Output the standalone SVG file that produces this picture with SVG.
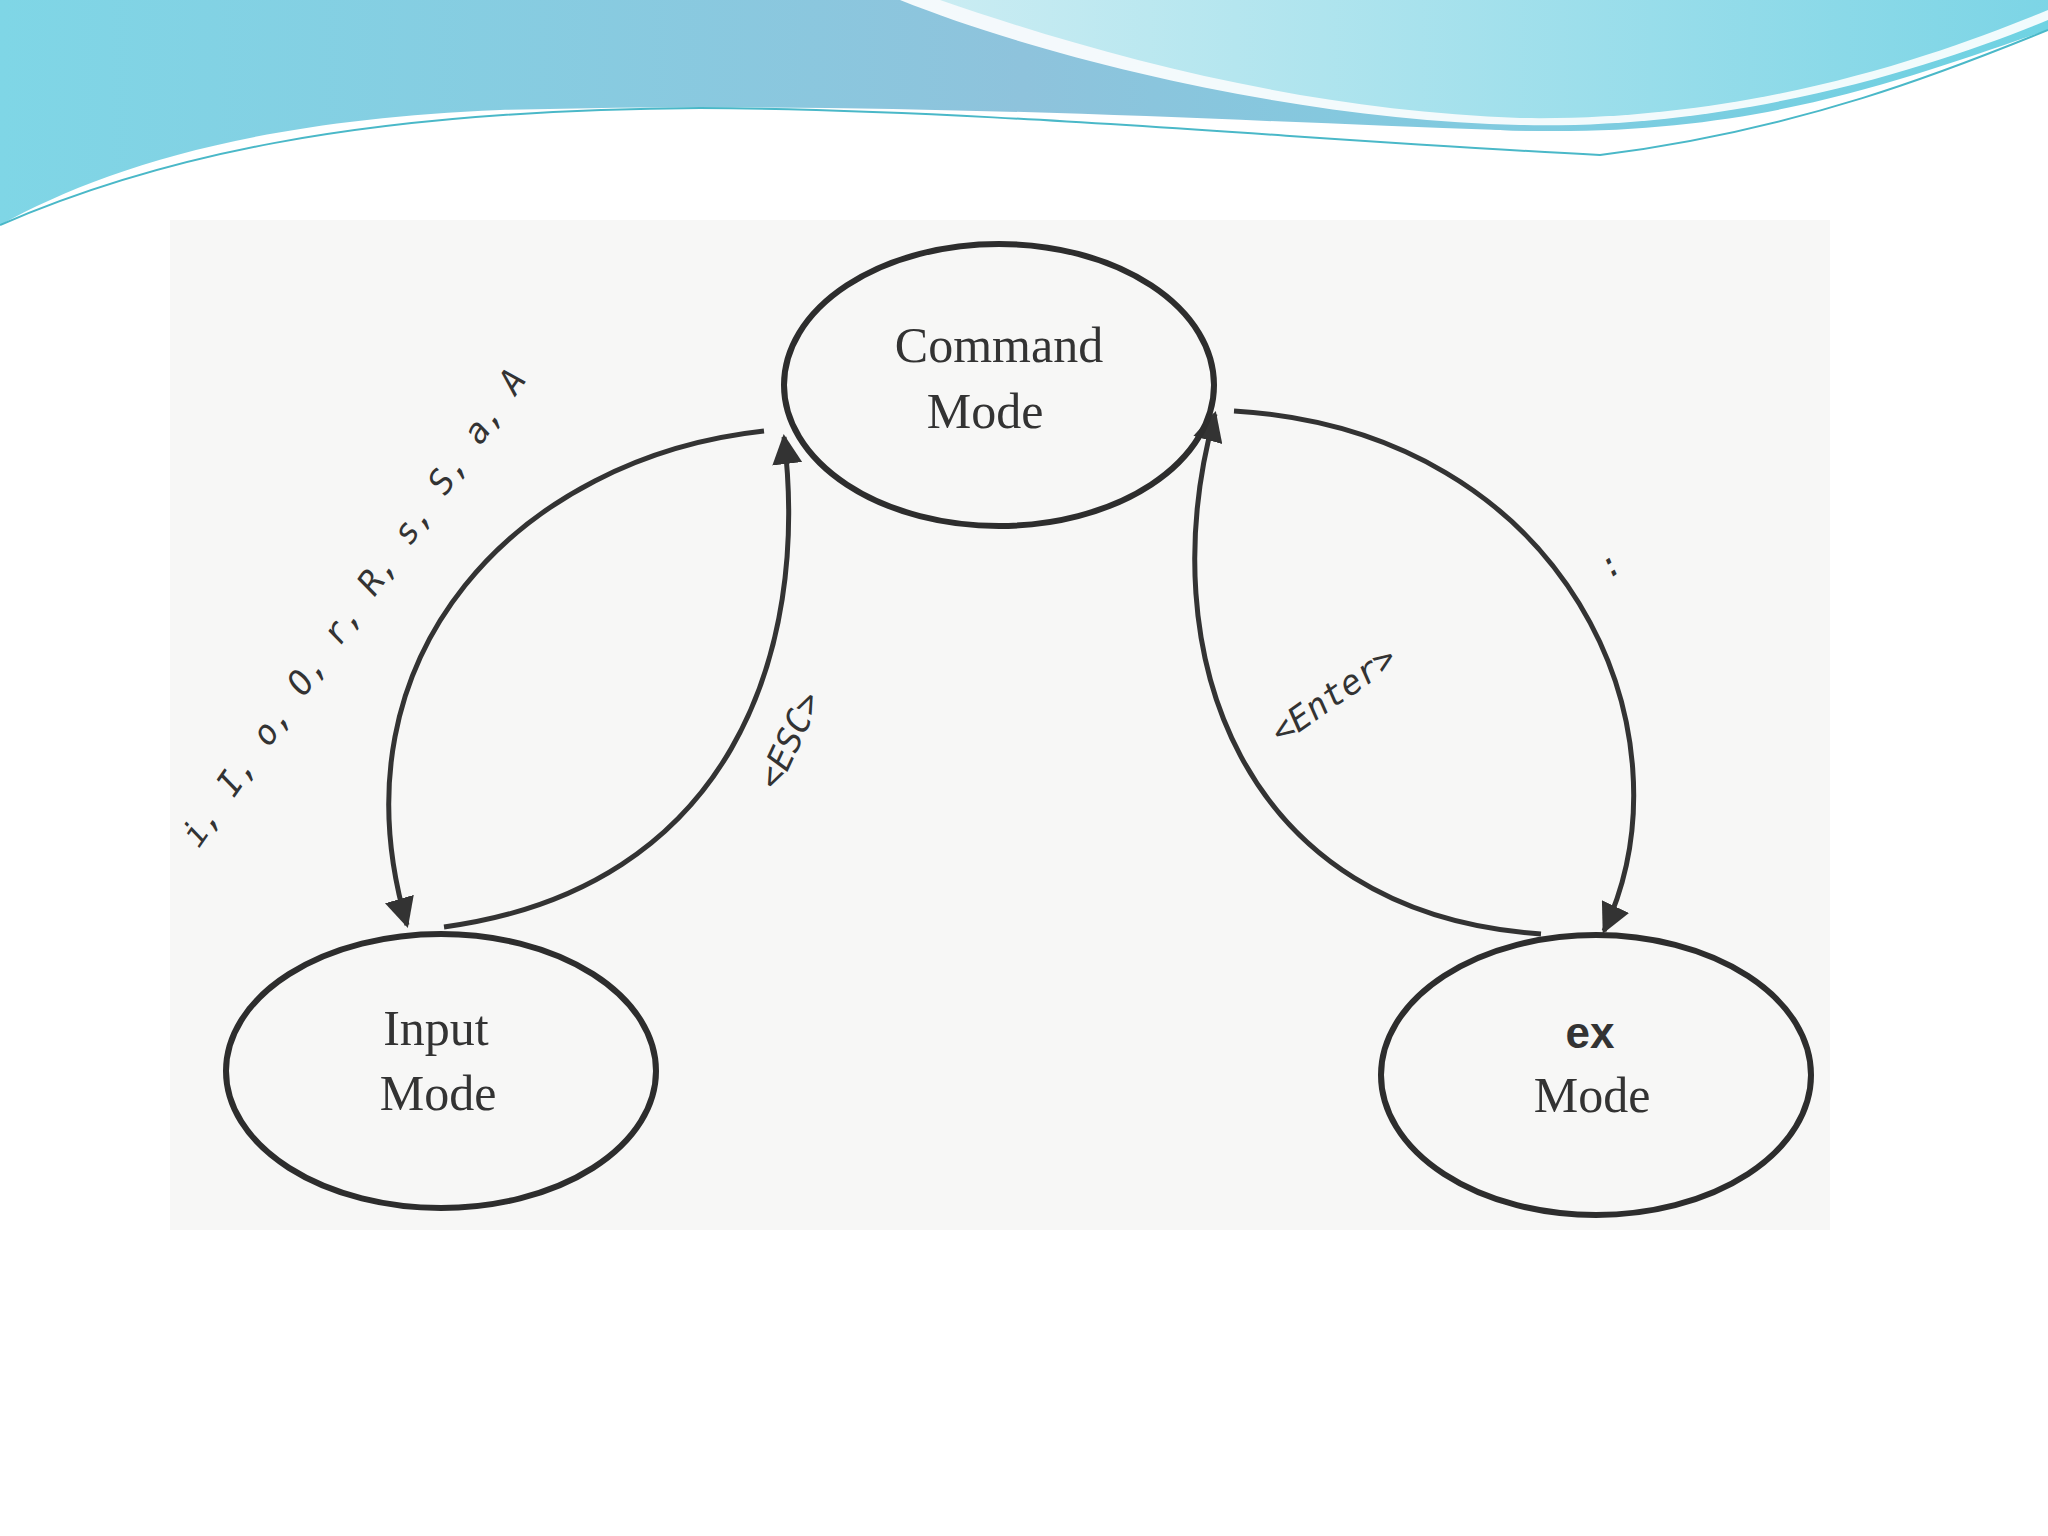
<svg xmlns="http://www.w3.org/2000/svg" width="2048" height="1536" viewBox="0 0 2048 1536">
<defs>
<linearGradient id="wv" x1="0" y1="0" x2="1" y2="0"><stop offset="0" stop-color="#7fd6e6"/><stop offset="0.5" stop-color="#8ec3dc"/><stop offset="1" stop-color="#6fd3e3"/></linearGradient>
<linearGradient id="wv2" x1="0" y1="0" x2="1" y2="0"><stop offset="0" stop-color="#bfe9f0"/><stop offset="1" stop-color="#5fcbe0"/></linearGradient>
<marker id="ah" viewBox="0 0 10 10" refX="9" refY="5" markerWidth="9" markerHeight="9" orient="auto-start-reverse" markerUnits="userSpaceOnUse"><path d="M0,0 L10,5 L0,10 z" fill="#333"/></marker>
<style>
.node{fill:none;stroke:#2d2d2d;stroke-width:6}
.lbl{font-family:"Liberation Serif",serif;font-size:50px;fill:#333;text-anchor:middle}
.edge{fill:none;stroke:#333;stroke-width:5;marker-end:url(#ah)}
.mono{font-family:"DejaVu Sans Mono","Liberation Mono",monospace;font-style:italic;font-size:34px;fill:#333;text-anchor:middle}
</style>
<marker id="a2" viewBox="0 0 10 10" refX="9" refY="5" markerWidth="30" markerHeight="30" orient="auto" markerUnits="userSpaceOnUse"><path d="M0,0 L10,5 L0,10 z" fill="#333"/></marker>
</defs>
<rect width="2048" height="1536" fill="#ffffff"/>
<path d="M0,0 H900 C1100,60 1400,120 1500,130 C1700,140 1900,60 2048,0 Z" fill="url(#wv)"/>
<path d="M0,0 H2048 V30 C1900,80 1750,140 1500,130 C1200,120 900,100 500,110 C250,120 100,170 0,225 Z" fill="url(#wv)"/>
<path d="M900,0 C1050,60 1300,120 1520,125 C1750,130 1950,60 2048,20 V0 Z" fill="#ffffff" opacity="0.9"/>
<path d="M940,0 C1100,55 1300,110 1520,118 C1760,122 1950,50 2048,10 V0 Z" fill="url(#wv2)" opacity="0.8"/>
<path d="M0,225 C150,160 350,110 700,108 C1000,110 1300,140 1600,155 C1800,130 1950,70 2048,30" fill="none" stroke="#4ab8c8" stroke-width="2"/>
<rect x="170" y="220" width="1660" height="1010" fill="#f7f7f6"/>
<g id="connectors">
<path class="edge" style="marker-end:url(#a2)" d="M764,431 C522,457 327,653 407,925"/>
<path class="edge" style="marker-end:url(#a2)" d="M444,927 C731,888 810,653 784,437"/>
<path class="edge" style="marker-end:url(#a2)" d="M1234,411 C1567,431 1698,731 1604,931"/>
<path class="edge" style="marker-end:url(#a2)" d="M1541,934 C1241,914 1149,653 1215,414"/>
<text class="mono" transform="translate(363,614) rotate(-55)">i, I, o, O, r, R, s, S, a, A</text>
<text class="mono" transform="translate(800,745) rotate(-65)">&lt;ESC&gt;</text>
<text class="mono" transform="translate(1340,704) rotate(-35)">&lt;Enter&gt;</text>
<text class="mono" transform="translate(1617,574) rotate(-35)">:</text>
</g>
<g id="command"><ellipse class="node" cx="999" cy="385" rx="215" ry="141"/><text class="lbl" x="999" y="362">Command</text><text class="lbl" x="985" y="428">Mode</text></g>
<g id="input"><ellipse class="node" cx="441" cy="1071" rx="215" ry="137"/><text class="lbl" x="436" y="1045">Input</text><text class="lbl" x="438" y="1110">Mode</text></g>
<g id="ex"><ellipse class="node" cx="1596" cy="1075" rx="215" ry="140"/><text class="lbl" x="1590" y="1048" style="font-family:'Liberation Sans',sans-serif;font-weight:bold;font-size:44px">ex</text><text class="lbl" x="1592" y="1112">Mode</text></g>
</svg>
